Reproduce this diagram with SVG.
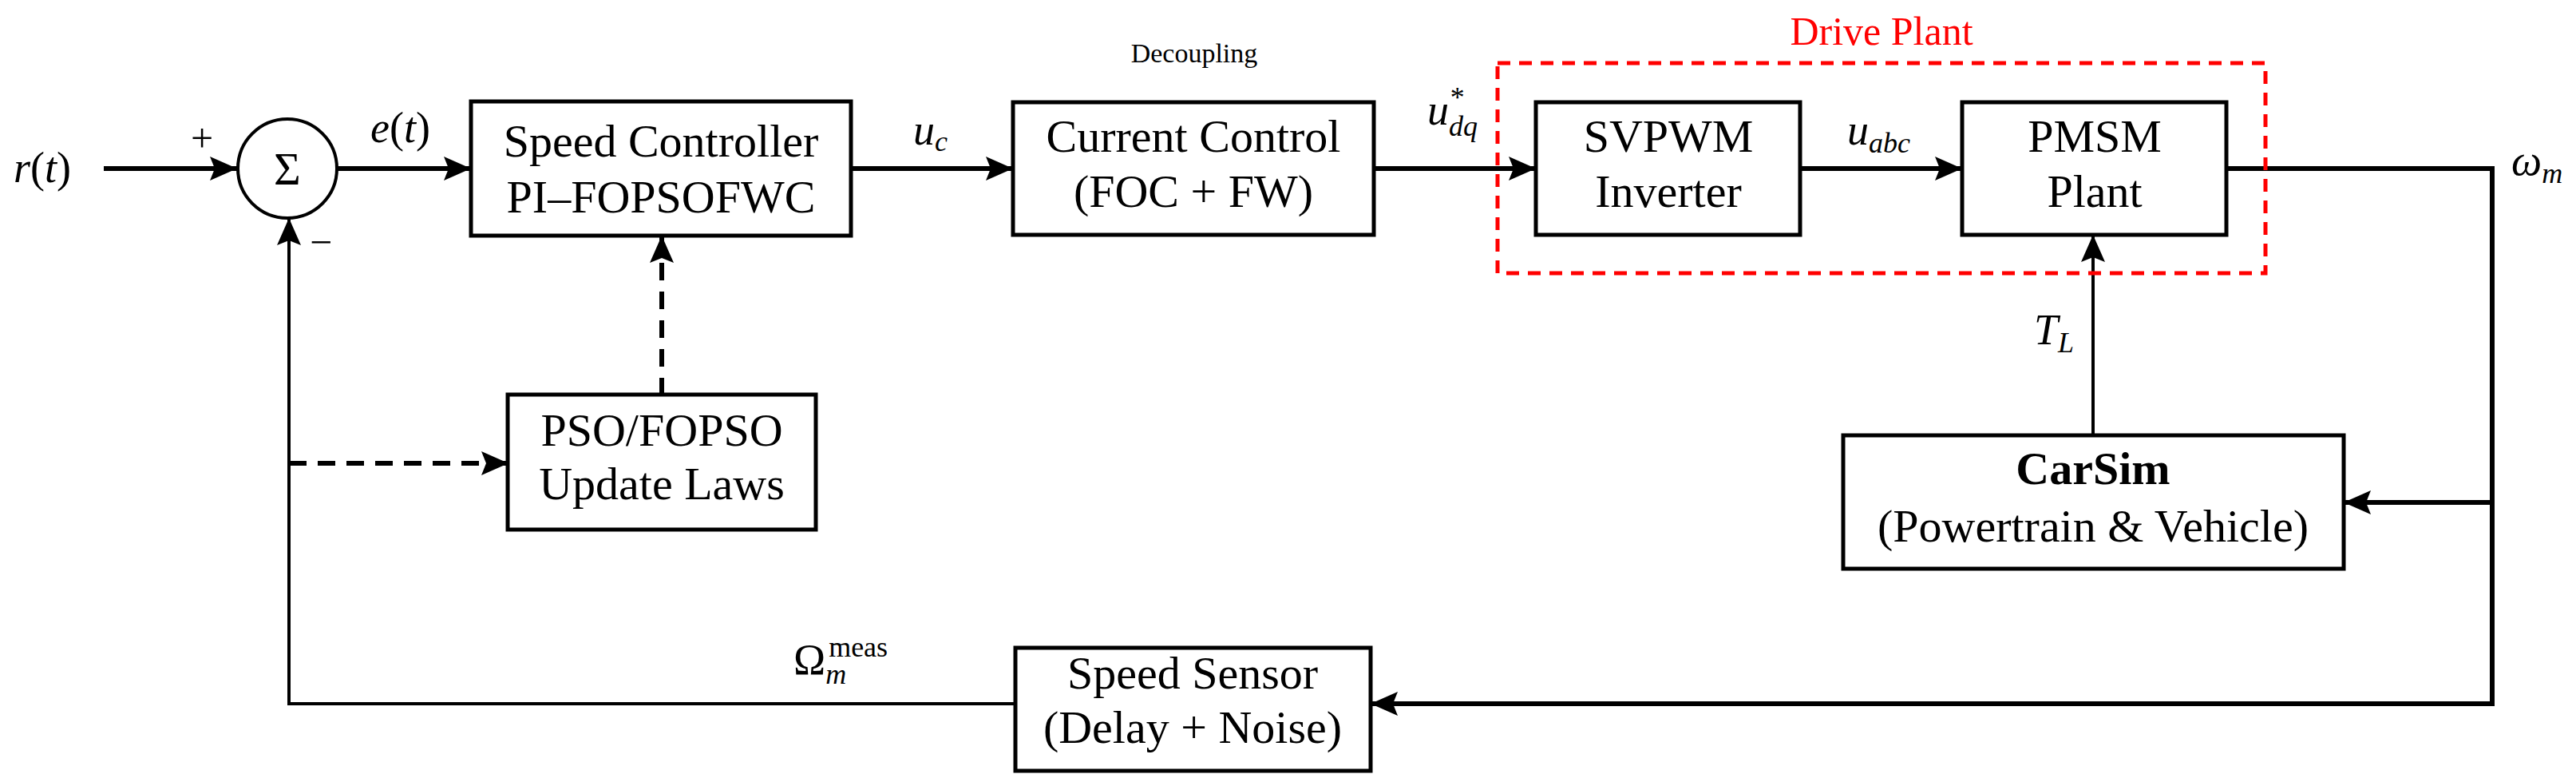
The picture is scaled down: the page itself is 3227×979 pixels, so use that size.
<svg xmlns="http://www.w3.org/2000/svg" width="3227" height="979" viewBox="0 0 3227 979">
<style>
.box{fill:#fff;stroke:#000;stroke-width:5}
.t{font-family:"Liberation Serif","DejaVu Serif",serif;font-size:58px;text-anchor:middle;fill:#000}
.m{font-family:"Liberation Serif","DejaVu Serif",serif;font-style:italic;font-size:54px;fill:#000}
.w{fill:none;stroke:#000;stroke-width:6}
.n{fill:none;stroke:#000;stroke-width:4}
</style>
<defs>
<marker id="a" markerUnits="userSpaceOnUse" markerWidth="34" markerHeight="30" refX="34" refY="15" orient="auto"><path d="M0,0 L34,15 L0,30 L6,15 Z" fill="#000"/></marker>
</defs>
<g id="connectors">
<line class="w" x1="130" y1="211" x2="297" y2="211" marker-end="url(#a)"/>
<line class="w" x1="422" y1="211" x2="590" y2="211" marker-end="url(#a)"/>
<line class="w" x1="1066" y1="211" x2="1269" y2="211" marker-end="url(#a)"/>
<line class="w" x1="1721" y1="211" x2="1924" y2="211" marker-end="url(#a)"/>
<line class="w" x1="2255" y1="211" x2="2458" y2="211" marker-end="url(#a)"/>
<polyline class="w" points="2789,211 3122,211 3122,881 1717,881" marker-end="url(#a)"/>
<line class="w" x1="3122" y1="629" x2="2936" y2="629" marker-end="url(#a)"/>
<line class="n" x1="2622" y1="545" x2="2622" y2="294" marker-end="url(#a)"/>
<polyline class="n" points="1272,881 362,881 362,273" marker-end="url(#a)"/>
<line class="w" x1="829" y1="495" x2="829" y2="295" stroke-dasharray="22,14" marker-end="url(#a)"/>
<line class="w" x1="362" y1="580" x2="637" y2="580" stroke-dasharray="22,14" marker-end="url(#a)"/>
</g>
<g id="sum"><circle cx="360" cy="211" r="62" fill="#fff" stroke="#000" stroke-width="4"/><text class="t" x="360" y="231">Σ</text></g>
<g id="speedController"><rect class="box" x="590" y="127" width="476" height="168"/><text class="t" x="828" y="196">Speed Controller</text><text class="t" x="828" y="266">PI–FOPSOFWC</text></g>
<g id="currentControl"><rect class="box" x="1269" y="128" width="452" height="166"/><text class="t" x="1495" y="190">Current Control</text><text class="t" x="1495" y="259">(FOC + FW)</text></g>
<g id="drivePlant"><rect x="1876" y="79" width="962" height="263" fill="none" stroke="#f00" stroke-width="5" stroke-dasharray="16,11"/><text class="t" x="2357" y="56" fill="#f00" style="fill:#f00;font-size:50px">Drive Plant</text></g>
<g id="svpwm"><rect class="box" x="1924" y="128" width="331" height="166"/><text class="t" x="2090" y="190">SVPWM</text><text class="t" x="2090" y="259">Inverter</text></g>
<g id="pmsm"><rect class="box" x="2458" y="128" width="331" height="166"/><text class="t" x="2624" y="190">PMSM</text><text class="t" x="2624" y="259">Plant</text></g>
<g id="carsim"><rect class="box" x="2309" y="545" width="627" height="167"/><text class="t" x="2622" y="606" font-weight="bold">CarSim</text><text class="t" x="2622" y="678">(Powertrain &amp; Vehicle)</text></g>
<g id="pso"><rect class="box" x="636" y="494" width="386" height="169"/><text class="t" x="829" y="558">PSO/FOPSO</text><text class="t" x="829" y="625">Update Laws</text></g>
<g id="sensor"><rect class="box" x="1272" y="811" width="445" height="154"/><text class="t" x="1494" y="862">Speed Sensor</text><text class="t" x="1494" y="930">(Delay + Noise)</text></g>
<g id="labels">
<text class="m" x="17" y="228">r<tspan font-style="normal">(</tspan>t<tspan font-style="normal">)</tspan></text>
<text class="t" x="253" y="190" style="font-size:50px">+</text>
<text class="t" x="402" y="320" style="font-size:50px">−</text>
<text class="m" x="464" y="178">e<tspan font-style="normal">(</tspan>t<tspan font-style="normal">)</tspan></text>
<text class="m" x="1144" y="181">u<tspan font-size="36" dy="8">c</tspan></text>
<text class="t" x="1496" y="78" style="font-size:34px">Decoupling</text>
<text class="m" x="1788" y="156">u<tspan font-size="36" dy="-22">*</tspan><tspan font-size="36" dx="-18" dy="36">dq</tspan></text>
<text class="m" x="2314" y="181">u<tspan font-size="36" dy="10">abc</tspan></text>
<text class="m" x="3146" y="219">ω<tspan font-size="36" dy="10">m</tspan></text>
<text class="m" x="2548" y="431">T<tspan font-size="36" dy="10">L</tspan></text>
<text class="m" x="994" y="844"><tspan font-style="normal">Ω</tspan><tspan font-size="36" dy="12">m</tspan><tspan font-size="36" font-style="normal" dx="-22" dy="-34">meas</tspan></text>
</g>
</svg>
